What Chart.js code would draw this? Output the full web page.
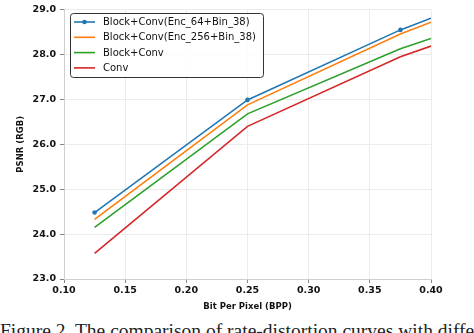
<!DOCTYPE html>
<html>
<head>
<meta charset="utf-8">
<script src="https://cdn.jsdelivr.net/npm/chart.js@4/dist/chart.umd.min.js"></script>
<style>
  body{ margin:0; background:#fff; width:474px; height:333px; overflow:hidden; position:relative; }
  #wrap{ position:absolute; left:0; top:0; width:474px; height:315px; }
  #caption{ position:absolute; left:0; top:320px; white-space:nowrap; font-family:"Liberation Serif","DejaVu Serif",serif; font-size:19.5px; color:#222; }
</style>
</head>
<body>
<div id="wrap"><canvas id="chart"></canvas></div>
<div id="caption">Figure 2. The comparison of rate-distortion curves with differ</div>
<script>
// bpp on x, psnr on y
const bpp = [0.125, 0.25, 0.375, 0.40];
const encBin64 = [24.48, 26.99, 28.55, 28.81];
const encBin256 = [24.33, 26.88, 28.46, 28.72];
const blockConv = [24.15, 26.68, 28.13, 28.36];
const convOnly = [23.57, 26.40, 27.95, 28.19];
const seriesNames = ['Block+Conv(Enc_64+Bin_38)', 'Block+Conv(Enc_256+Bin_38)', 'Block+Conv', 'Conv'];
const COLORS = ['#1f77b4', '#ff7f0e', '#2ca02c', '#d62728'];
const xTicks = [0.10, 0.15, 0.20, 0.25, 0.30, 0.35, 0.40];
const yTicks = [23, 24, 25, 26, 27, 28, 29];

const H = 315;
const FONT = 'DejaVu Sans';

function pts(ys){ return bpp.map((x,i) => ({x, y: ys[i]})); }

const datasets = [encBin64, encBin256, blockConv, convOnly].map((ys, i) => ({
  label: seriesNames[i],
  data: pts(ys),
  borderColor: COLORS[i],
  backgroundColor: COLORS[i],
  borderWidth: 1.6,
  pointRadius: i === 0 ? [2.3, 2.3, 2.3, 0] : 0,
  pointBorderWidth: 0,
  tension: 0
}));

// boxed legend like matplotlib
const boxLegend = {
  id: 'boxLegend',
  afterDraw(chart){
    const ctx = chart.ctx;
    const x0 = 70, y0 = 13, w = 193, h = 64;
    ctx.save();
    ctx.fillStyle = 'rgba(255,255,255,0.85)';
    ctx.strokeStyle = '#333';
    ctx.lineWidth = 1;
    ctx.beginPath();
    ctx.roundRect(x0 + 0.5, y0 + 0.5, w, h, 3);
    ctx.fill();
    ctx.stroke();
    ctx.font = '10px "' + FONT + '"';
    ctx.textBaseline = 'middle';
    chart.data.datasets.forEach((ds, i) => {
      const y = y0 + 9 + i * 15.3;
      ctx.strokeStyle = ds.borderColor;
      ctx.lineWidth = 1.6;
      ctx.beginPath();
      ctx.moveTo(x0 + 4, y);
      ctx.lineTo(x0 + 25, y);
      ctx.stroke();
      if(i === 0){
        ctx.fillStyle = ds.borderColor;
        ctx.beginPath();
        ctx.arc(x0 + 14.5, y, 2.3, 0, Math.PI * 2);
        ctx.fill();
      }
      ctx.fillStyle = '#111';
      ctx.fillText(ds.label, x0 + 33, y + 0.5);
    });
    ctx.restore();
  }
};

const tickFont = { family: FONT, size: 9.5, weight: 'bold' };
const titleFont = { family: FONT, size: 8.5, weight: 'bold' };

new Chart(document.getElementById('chart'), {
  type: 'line',
  data: { datasets },
  options: {
    responsive: true,
    maintainAspectRatio: false,
    animation: false,
    layout: { padding: { left: 0, right: 43, top: 8, bottom: 0 } },
    plugins: { legend: { display: false }, tooltip: { enabled: false } },
    scales: {
      x: {
        type: 'linear',
        min: 0.10, max: 0.40,
        afterFit: s => { s.height = H - 279; },
        afterBuildTicks: s => { s.ticks = xTicks.map(v => ({ value: v })); },
        border: { color: '#cfcfcf' },
        grid: { color: '#ececec', tickLength: 4, tickColor: '#888' },
        ticks: { color: '#111', font: tickFont, padding: 2, maxRotation: 0,
                 callback: v => Number(v).toFixed(2) },
        title: { display: true, text: 'Bit Per Pixel (BPP)', color: '#111', font: titleFont,
                 padding: { top: 0, bottom: 3 } }
      },
      y: {
        min: 23, max: 29,
        afterFit: s => { s.width = 64; },
        afterBuildTicks: s => { s.ticks = yTicks.map(v => ({ value: v })); },
        border: { color: '#cfcfcf' },
        grid: { color: '#ececec', tickLength: 4, tickColor: '#888' },
        ticks: { color: '#111', font: tickFont, padding: 4,
                 callback: v => Number(v).toFixed(1) },
        title: { display: true, text: 'PSNR (RGB)', color: '#111', font: titleFont,
                 padding: { top: 16, bottom: 0 } }
      }
    }
  },
  plugins: [boxLegend]
});
</script>
</body>
</html>
